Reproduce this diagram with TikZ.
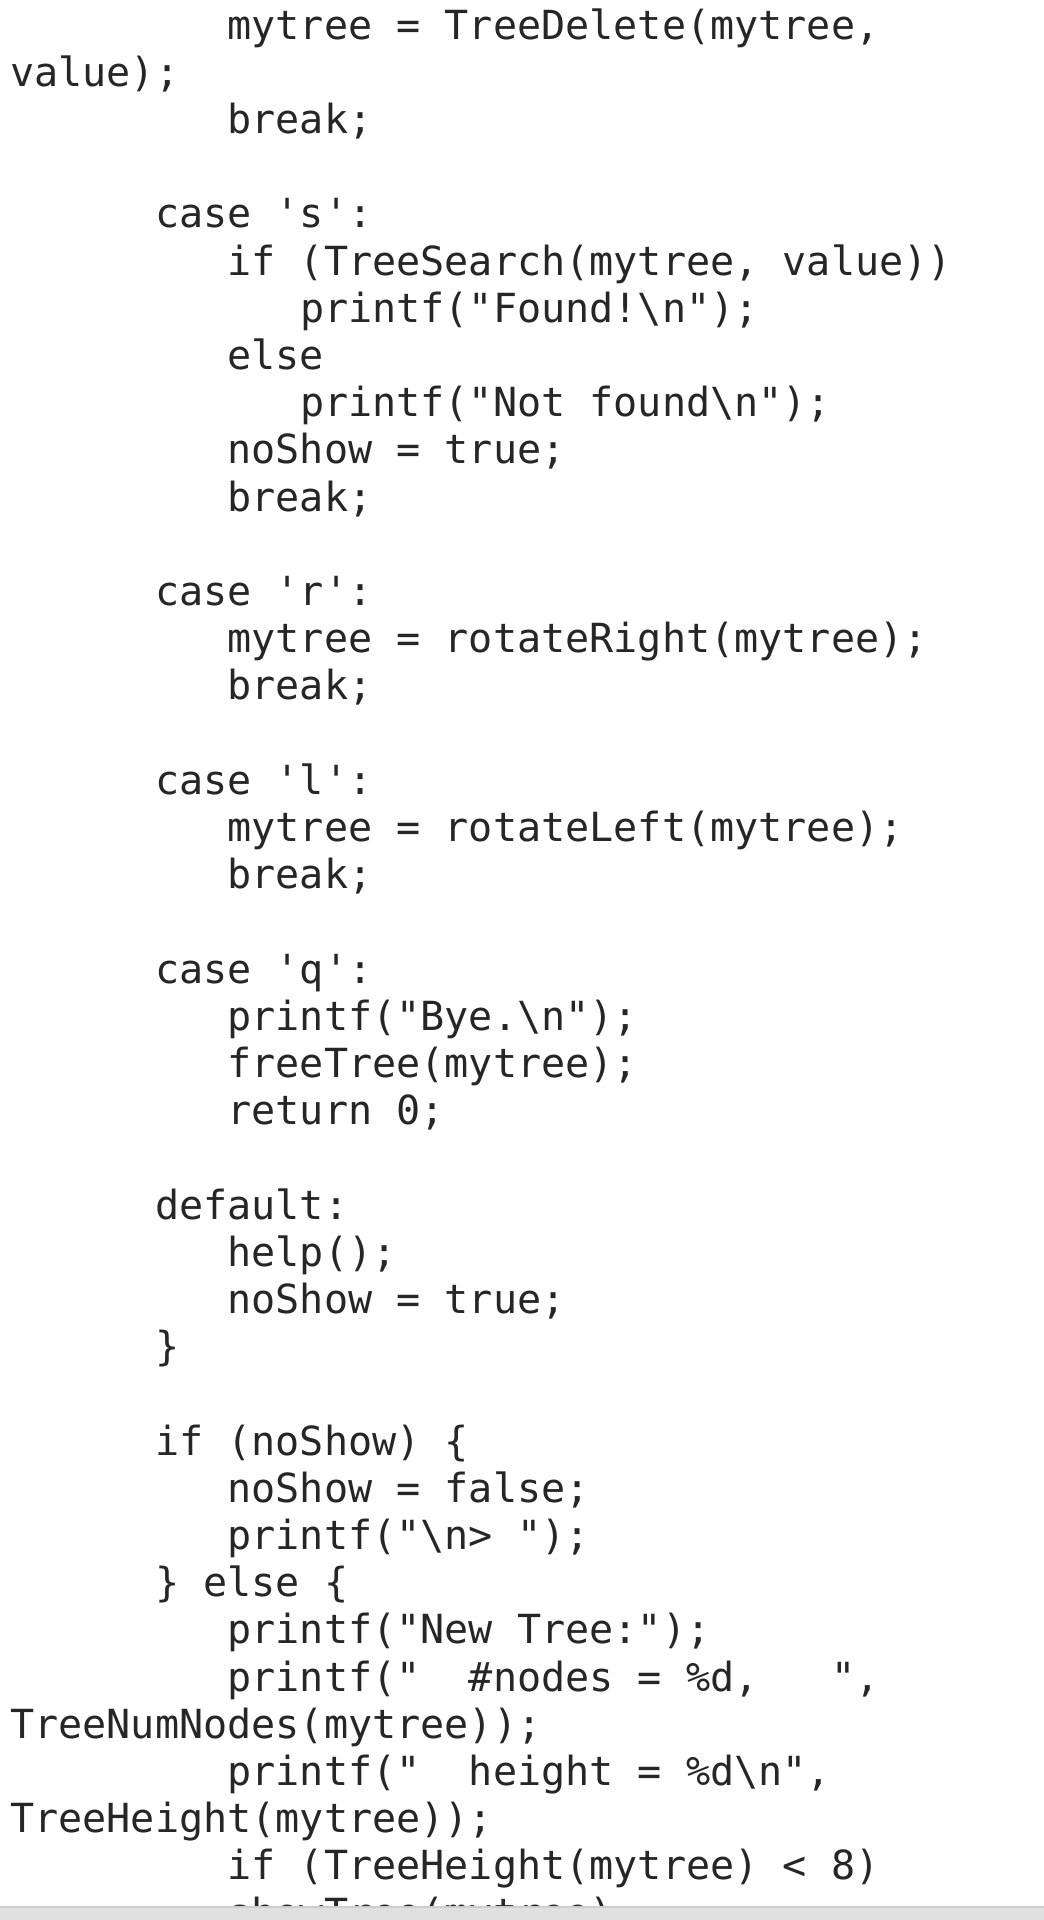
\documentclass[tikz,border=0pt]{standalone}
\usepackage{fontspec}
\setmonofont{DejaVu Sans Mono}
\begin{document}
\begin{tikzpicture}[x=1pt,y=-1pt,
  code/.style={anchor=base west,inner sep=0pt,font=\fontsize{40.1}{47}\selectfont\ttfamily,text=black!85}]
\useasboundingbox (0,0) rectangle (1044,1920);
\fill[white] (0,0) rectangle (1044,1920);
\def\cw{24.15}
\def\lh{47.2}
\foreach \n/\c/\t in {
0/9/{mytree = TreeDelete(mytree,},
1/0/{value);},
2/9/{break;},
4/6/{case 's':},
5/9/{if (TreeSearch(mytree, value))},
6/12/{printf("Found!\textbackslash n");},
7/9/{else},
8/12/{printf("Not found\textbackslash n");},
9/9/{noShow = true;},
10/9/{break;},
12/6/{case 'r':},
13/9/{mytree = rotateRight(mytree);},
14/9/{break;},
16/6/{case 'l':},
17/9/{mytree = rotateLeft(mytree);},
18/9/{break;},
20/6/{case 'q':},
21/9/{printf("Bye.\textbackslash n");},
22/9/{freeTree(mytree);},
23/9/{return 0;},
25/6/{default:},
26/9/{help();},
27/9/{noShow = true;},
28/6/{\}},
30/6/{if (noShow) \{},
31/9/{noShow = false;},
32/9/{printf("\textbackslash n> ");},
33/6/{\} else \{},
34/9/{printf("New Tree:");},
35/9/{printf("\ \ \#nodes = \%d,\ \ \ ",},
36/0/{TreeNumNodes(mytree));},
37/9/{printf("\ \ height = \%d\textbackslash n",},
38/0/{TreeHeight(mytree));},
39/9/{if (TreeHeight(mytree) < 8)},
40/9/{showTree(mytree);}}
  \node[code] (l\n) at ({10+\c*\cw},{39+\n*\lh}) {\t};
\fill[black!12] (0,1906) rectangle (1044,1920);
\fill[black!20] (0,1906) rectangle (1044,1908);
\end{tikzpicture}
\end{document}
